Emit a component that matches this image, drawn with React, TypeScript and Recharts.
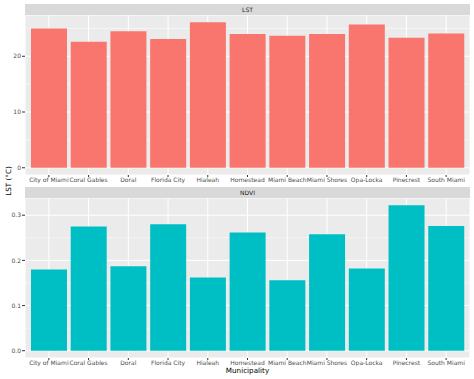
import React from "react";
import { BarChart, Bar, XAxis, YAxis, CartesianGrid } from "recharts";

const municipalities = [
  "City of Miami",
  "Coral Gables",
  "Doral",
  "Florida City",
  "Hialeah",
  "Homestead",
  "Miami Beach",
  "Miami Shores",
  "Opa-Locka",
  "Pinecrest",
  "South Miami",
];

const lstValues = [25.0, 22.6, 24.5, 23.1, 26.1, 24.0, 23.7, 24.0, 25.7, 23.3, 24.1];
const ndviValues = [0.18, 0.275, 0.187, 0.28, 0.162, 0.262, 0.156, 0.258, 0.182, 0.322, 0.276];

const lstTicks = [0, 10, 20];
const lstMinor = [5, 15, 25];
const ndviTicks = [0, 0.1, 0.2, 0.3];
const ndviMinor = [0.05, 0.15, 0.25];

const FONT = "'DejaVu Sans', sans-serif";
const tickStyle = { fill: "#4D4D4D", fontSize: 6, fontFamily: FONT };

const lstData = municipalities.map((name, i) => ({ name, value: lstValues[i] }));
const ndviData = municipalities.map((name, i) => ({ name, value: ndviValues[i] }));

function Strip({ top, label }: { top: number; label: string }) {
  return (
    <div
      style={{
        position: "absolute",
        left: 25,
        top,
        width: 445,
        height: 11,
        background: "#D9D9D9",
        color: "#1A1A1A",
        fontSize: 6,
        fontFamily: FONT,
        lineHeight: "11px",
        textAlign: "center",
      }}
    >
      {label}
    </div>
  );
}

function Panel({
  data,
  ticks,
  minor,
  domain,
  color,
  fmt,
}: {
  data: { name: string; value: number }[];
  ticks: number[];
  minor: number[];
  domain: [number, number];
  color: string;
  fmt: (v: number) => string;
}) {
  return (
    <BarChart
      width={474}
      height={190}
      data={data}
      margin={{ top: 15, right: 4, bottom: 0, left: 0 }}
      barCategoryGap="5%"
    >
      <CartesianGrid fill="#EBEBEB" stroke="#FFFFFF" strokeWidth={1} />
      <CartesianGrid
        horizontalValues={minor}
        vertical={false}
        stroke="#FFFFFF"
        strokeWidth={0.5}
        fillOpacity={0}
      />
      <XAxis
        dataKey="name"
        interval={0}
        axisLine={false}
        tickLine={{ stroke: "#333333" }}
        tickSize={2}
        tickMargin={1}
        height={15}
        padding={{ left: 4, right: 4 }}
        tick={tickStyle}
      />
      <YAxis
        type="number"
        domain={domain}
        ticks={ticks}
        allowDataOverflow
        axisLine={false}
        tickLine={{ stroke: "#333333" }}
        tickSize={3}
        tickMargin={1}
        width={25}
        tick={tickStyle}
        tickFormatter={fmt}
      />
      <Bar dataKey="value" fill={color} isAnimationActive={false} />
    </BarChart>
  );
}

export default function App() {
  return (
    <div
      style={{
        position: "absolute",
        left: 0,
        top: 0,
        width: 474,
        height: 379,
        background: "#FFFFFF",
        fontFamily: FONT,
      }}
    >
      <div style={{ position: "absolute", left: 0, top: 0 }}>
        <Panel
          data={lstData}
          ticks={lstTicks}
          minor={lstMinor}
          domain={[-1.3, 27.4]}
          color="#F8766D"
          fmt={(v) => String(v)}
        />
      </div>
      <div style={{ position: "absolute", left: 0, top: 183 }}>
        <Panel
          data={ndviData}
          ticks={ndviTicks}
          minor={ndviMinor}
          domain={[-0.0161, 0.3381]}
          color="#00BFC4"
          fmt={(v) => v.toFixed(1)}
        />
      </div>
      <Strip top={4} label="LST" />
      <Strip top={187} label="NDVI" />
      <div
        style={{
          position: "absolute",
          left: 0,
          top: 366,
          width: 495,
          textAlign: "center",
          fontSize: 7.2,
          color: "#000000",
        }}
      >
        Municipality
      </div>
      <div
        style={{
          position: "absolute",
          left: 8,
          top: 181,
          transform: "translate(-50%, -50%) rotate(-90deg)",
          fontSize: 7.2,
          color: "#000000",
          whiteSpace: "nowrap",
        }}
      >
        LST (°C)
      </div>
    </div>
  );
}
